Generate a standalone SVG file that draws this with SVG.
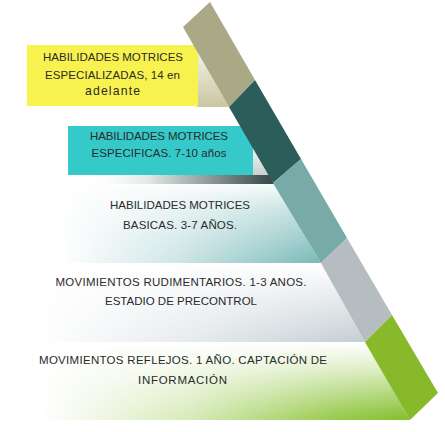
<svg xmlns="http://www.w3.org/2000/svg" width="445" height="432" viewBox="0 0 445 432">
<style>
.t{font-family:"Liberation Sans",Arial,sans-serif;font-size:11.5px;fill:#2a2a2a;text-anchor:middle}
</style>
<defs>
<linearGradient id="h3" gradientUnits="userSpaceOnUse" x1="60" y1="0" x2="320" y2="0">
<stop offset="0" stop-color="#ffffff"/><stop offset="0.45" stop-color="#cfe6e6"/><stop offset="1" stop-color="#7ab9b9"/>
</linearGradient>
<linearGradient id="h4" gradientUnits="userSpaceOnUse" x1="40" y1="0" x2="365" y2="0">
<stop offset="0" stop-color="#ffffff"/><stop offset="0.5" stop-color="#e4e9ec"/><stop offset="1" stop-color="#c4cdd2"/>
</linearGradient>
<linearGradient id="h5" gradientUnits="userSpaceOnUse" x1="40" y1="0" x2="410" y2="0">
<stop offset="0" stop-color="#ffffff"/><stop offset="0.4" stop-color="#d8ebbb"/><stop offset="0.8" stop-color="#9acb50"/><stop offset="1" stop-color="#86c030"/>
</linearGradient>
<linearGradient id="v3" gradientUnits="userSpaceOnUse" x1="0" y1="186" x2="0" y2="262">
<stop offset="0" stop-color="#ffffff" stop-opacity="0.9"/><stop offset="0.3" stop-color="#ffffff" stop-opacity="0.55"/><stop offset="1" stop-color="#ffffff" stop-opacity="0"/>
</linearGradient>
<linearGradient id="v4" gradientUnits="userSpaceOnUse" x1="0" y1="264" x2="0" y2="342">
<stop offset="0" stop-color="#ffffff" stop-opacity="1"/><stop offset="0.4" stop-color="#ffffff" stop-opacity="0.6"/><stop offset="1" stop-color="#ffffff" stop-opacity="0"/>
</linearGradient>
<linearGradient id="v5" gradientUnits="userSpaceOnUse" x1="0" y1="343" x2="0" y2="418">
<stop offset="0" stop-color="#ffffff" stop-opacity="1"/><stop offset="0.35" stop-color="#ffffff" stop-opacity="0.7"/><stop offset="1" stop-color="#ffffff" stop-opacity="0"/>
</linearGradient>
<linearGradient id="gy" x1="0" y1="0" x2="0" y2="1">
<stop offset="0" stop-color="#f2f1e2"/><stop offset="1" stop-color="#c9c6a2"/>
</linearGradient>
<linearGradient id="gs" x1="0" y1="0" x2="1" y2="0">
<stop offset="0" stop-color="#ffffff" stop-opacity="0"/><stop offset="0.35" stop-color="#e3e8e8"/><stop offset="1" stop-color="#354545"/>
</linearGradient>
<linearGradient id="gc" x1="0" y1="0" x2="0" y2="1">
<stop offset="0" stop-color="#f4f6f6"/><stop offset="1" stop-color="#c8d0d0"/>
</linearGradient>
</defs>

<g id="tier5">
<polygon points="0,342 365,342 410,420 0,420" fill="url(#h5)"/>
<polygon points="0,342 365,342 410,420 0,420" fill="url(#v5)"/>
<text class="t" x="183" y="364" textLength="288" lengthAdjust="spacing">MOVIMIENTOS REFLEJOS. 1 AÑO. CAPTACIÓN DE</text>
<text class="t" x="182.5" y="384" textLength="89" lengthAdjust="spacing">INFORMACIÓN</text>
</g>
<g id="tier4">
<polygon points="0,263 321,263 365,342 0,342" fill="url(#h4)"/>
<polygon points="0,263 321,263 365,342 0,342" fill="url(#v4)"/>
<text class="t" x="181" y="286" textLength="251" lengthAdjust="spacing">MOVIMIENTOS RUDIMENTARIOS. 1-3 ANOS.</text>
<text class="t" x="181" y="305" textLength="152" lengthAdjust="spacing">ESTADIO DE PRECONTROL</text>
</g>
<g id="tier3">
<polygon points="0,183 273,183 321,263 0,263" fill="url(#h3)"/>
<polygon points="0,183 273,183 321,263 0,263" fill="url(#v3)"/>
<text class="t" x="180" y="209" textLength="140" lengthAdjust="spacing">HABILIDADES MOTRICES</text>
<text class="t" x="180" y="229" textLength="114" lengthAdjust="spacing">BASICAS. 3-7 AÑOS.</text>
</g>
<g id="tier2">
<polygon points="253,146 269,175 253,175" fill="url(#gc)"/>
<polygon points="80,175 269,175 274,184 100,184" fill="url(#gs)"/>
<rect x="68" y="126" width="185" height="49" fill="#35c9c9"/>
<text class="t" x="159" y="140" textLength="138" lengthAdjust="spacing">HABILIDADES MOTRICES</text>
<text class="t" x="159" y="157" textLength="135" lengthAdjust="spacing">ESPECIFICAS. 7-10 años</text>
</g>
<g id="tier1">
<polygon points="197,52 229,107 197,107" fill="url(#gy)"/>
<rect x="27" y="45" width="171" height="61" fill="#f8f24e"/>
<text class="t" x="113" y="61" textLength="140" lengthAdjust="spacing">HABILIDADES MOTRICES</text>
<text class="t" x="112.5" y="79" textLength="135" lengthAdjust="spacing">ESPECIALIZADAS, 14 en</text>
<text class="t" x="112.5" y="95" style="font-size:12.2px" textLength="55" lengthAdjust="spacing">adelante</text>
</g>
<g id="band">
<polygon points="210,2 255,80 229,107 183,27" fill="#a9a985"/>
<polygon points="255,80 301,159 273,183 229,107" fill="#2b5d5a"/>
<polygon points="301,159 347,238 321,263 273,183" fill="#78aaa8"/>
<polygon points="347,238 392,315 365,342 321,263" fill="#b6bdc0"/>
<polygon points="392,315 438,393 410,420 365,342" fill="#88b92a"/>
</g>
</svg>
